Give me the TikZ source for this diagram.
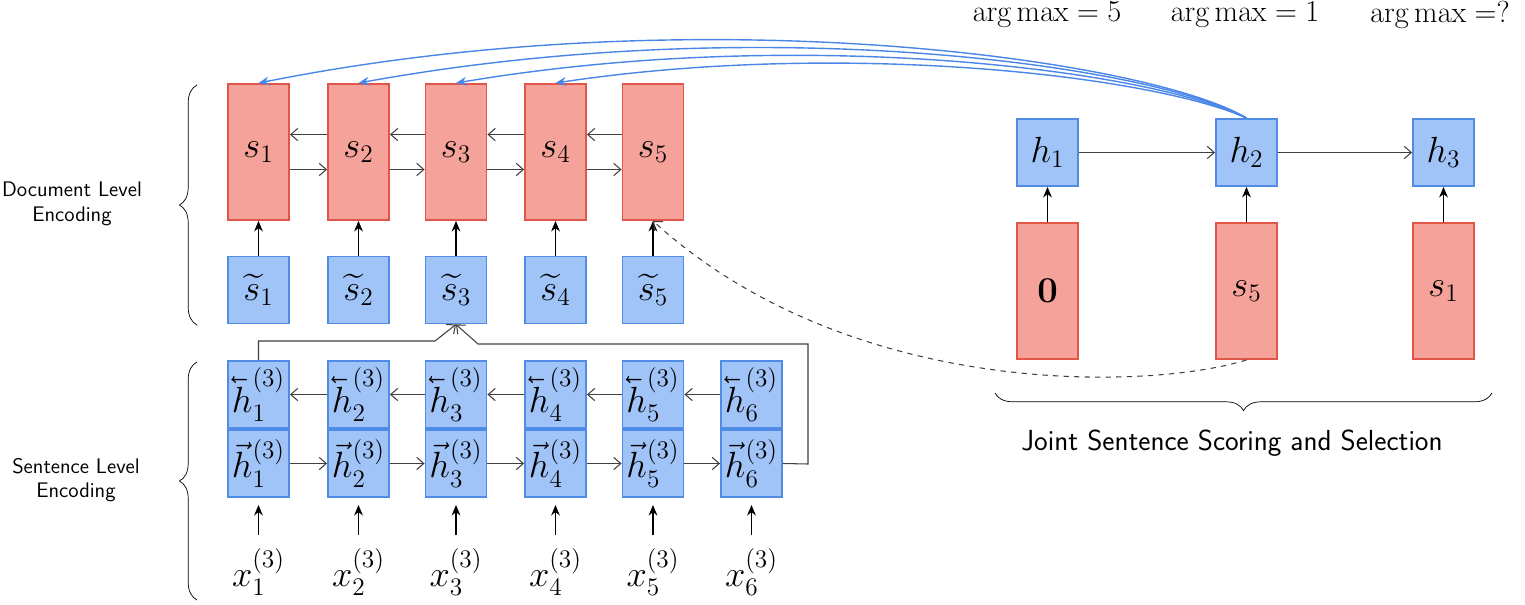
\documentclass[tikz,border=0pt]{standalone}
\usepackage{amsmath,graphicx}
\usetikzlibrary{decorations.pathreplacing,arrows.meta}
\newcommand{\lvh}{\reflectbox{$\vec{\reflectbox{$h$}}$}}
\begin{document}
\begin{tikzpicture}[x=0.02cm,y=-0.02cm,
  >={Straight Barb[length=4pt,width=7pt]},
  redbox/.style={draw={rgb,255:red,226;green,86;blue,74}, fill={rgb,255:red,244;green,162;blue,154}, line width=1.1pt, minimum width=1.22cm, minimum height=2.72cm, inner sep=0pt, font=\huge},
  bluebox/.style={draw={rgb,255:red,80;green,140;blue,230}, fill={rgb,255:red,160;green,195;blue,248}, line width=1.1pt, minimum width=1.22cm, minimum height=1.34cm, inner sep=0pt, font=\huge},
  conn/.style={->, draw=black!75, line width=0.6pt},
  upconn/.style={-{Stealth[length=6pt,width=5pt]}, draw=black, line width=0.6pt},
  blueconn/.style={-{Stealth[length=6pt,width=5pt]}, draw={rgb,255:red,74;green,134;blue,232}, line width=0.8pt},
  lbl/.style={font=\sffamily\large, align=center}]
\useasboundingbox (0,0) rectangle (1525,605);
% document level
\foreach \i/\x in {1/258.5,2/358.5,3/456,4/555.5,5/653}{
  \node[redbox] (s\i) at (\x,152) {$s_\i$};
  \node[bluebox] (t\i) at (\x,290) {$\widetilde{s}_\i$};
  \draw[upconn] (t\i) -- (s\i);
}
\foreach \a/\b in {1/2,2/3,3/4,4/5}{
  \draw[conn] ([yshift=-0.35cm]s\a.east) -- ([yshift=-0.35cm]s\b.west);
  \draw[conn] ([yshift=0.35cm]s\b.west) -- ([yshift=0.35cm]s\a.east);
}
% sentence level
\foreach \i/\x in {1/258.5,2/358.5,3/456,4/555.5,5/653,6/751.5}{
  \node[bluebox] (b\i) at (\x,394.5) {$\lvh_\i^{(3)}$};
  \node[bluebox] (f\i) at (\x,463.5) {$\vec{h}_\i^{(3)}$};
  \node[font=\huge] (x\i) at (\x,572) {$x_\i^{(3)}$};
  \draw[upconn] ([yshift=4pt]x\i.north) -- ([yshift=-4pt]f\i.south);
}
\foreach \a/\b in {1/2,2/3,3/4,4/5,5/6}{
  \draw[conn] (f\a) -- (f\b);
  \draw[conn] (b\b) -- (b\a);
}
\coordinate (c1) at (262,341);
\coordinate (c2) at (435,341);
\coordinate (c3) at (808,464);
\coordinate (c4) at (808,344);
\coordinate (c5) at (478,344);
\draw[conn] (b1.north) |- (c1) -- (c2) -- (t3.south);
\draw[conn] (f6.east) -- (c3) -- (c4) -- (c5) -- (t3.south);
% braces
\draw[decorate,decoration={brace,amplitude=10pt}] (197,325) -- (197,85);
\draw[decorate,decoration={brace,amplitude=10pt}] (197,600) -- (197,362);
\node[lbl] (dl) at (72,204) {Document Level\\Encoding};
\node[lbl] (sl) at (76,480) {Sentence Level\\Encoding};
% right part
\foreach \i/\x/\t in {1/1047.5/$\mathbf{0}$,2/1246.5/$s_5$,3/1443.5/$s_1$}{
  \node[bluebox] (h\i) at (\x,152.5) {$h_\i$};
  \node[redbox] (r\i) at (\x,291) {\t};
  \draw[upconn] (r\i) -- (h\i);
}
\draw[conn] (h1) -- (h2);
\draw[conn] (h2) -- (h3);
\draw[decorate,decoration={brace,amplitude=10pt}] (1492,393) -- (995,393);
\node[font=\sffamily\fontsize{16.5}{20}\selectfont] (js) at (1232,443) {Joint Sentence Scoring and Selection};
\node[font=\fontsize{18}{22}\selectfont] (a1) at (1047,15) {$\arg\max = 5$};
\node[font=\fontsize{18}{22}\selectfont] (a2) at (1245,15) {$\arg\max = 1$};
\node[font=\fontsize{18}{22}\selectfont] (a3) at (1440,15) {$\arg\max = ?$};
% blue curves
\draw[blueconn] (h2.north) .. controls (1150,60) and (700,-5) .. (s1.north);
\draw[blueconn] (h2.north) .. controls (1150,65) and (760,10) .. (s2.north);
\draw[blueconn] (h2.north) .. controls (1150,70) and (800,25) .. (s3.north);
\draw[blueconn] (h2.north) .. controls (1150,75) and (840,40) .. (s4.north);
% dashed
\draw[conn, dashed] (r2.south) .. controls (1150,390) and (850,400) .. (s5.south);
\end{tikzpicture}
\end{document}
